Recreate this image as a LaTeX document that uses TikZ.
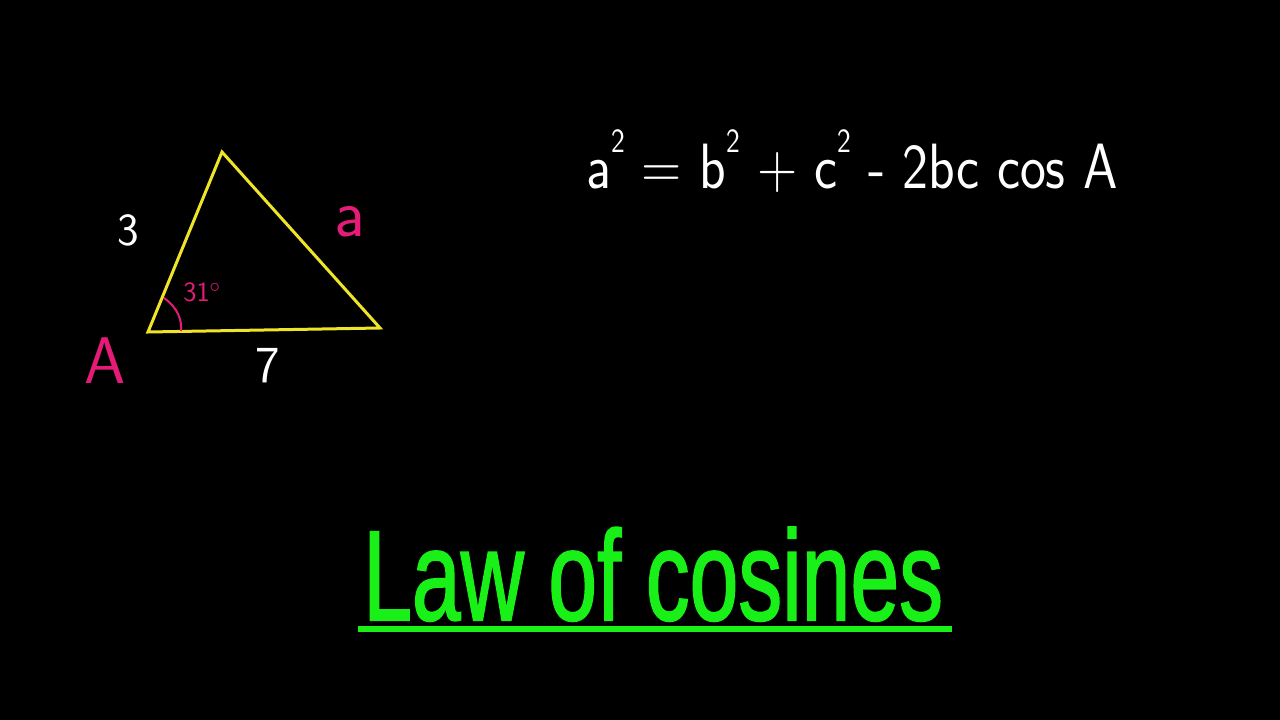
\documentclass[tikz,border=0pt]{standalone}
\usepackage{fontspec}
\setmainfont{Liberation Sans}
\newfontfamily\titlefont{Liberation Sans}[FakeBold=1.6]
\definecolor{tri}{RGB}{238,228,40}
\definecolor{pinkish}{RGB}{228,28,120}
\definecolor{titlegreen}{RGB}{24,240,24}
\tikzset{
  whitelbl/.style={text=white, inner sep=0pt, font=\sffamily},
  pinklbl/.style={text=pinkish, inner sep=0pt, font=\sffamily},
  triline/.style={draw=tri, line width=3pt, line join=miter},
}
\newcommand{\sq}{\raisebox{0.55em}{\fontsize{34}{34}\selectfont 2}}
\begin{document}
\begin{tikzpicture}[x=1pt,y=-1pt]
\fill[black] (0,0) rectangle (1280,720);
\useasboundingbox (0,0) rectangle (1280,720);
% triangle
\coordinate (T) at (222,152);
\coordinate (L) at (148,332);
\coordinate (R) at (380,328);
\draw[triline] (T) -- (L) -- (R) -- cycle;
% angle arc
\coordinate (a1) at (164,298);
\coordinate (a2) at (181,331);
\draw[pinkish, line width=2pt] (a1) .. controls (178,308) and (182,320) .. (a2);
% labels
\node[whitelbl, font=\sffamily\fontsize{46}{46}\selectfont] (three) at (128,230) {3};
\node[pinklbl, font=\sffamily\fontsize{68}{68}\selectfont] (sa) at (350,222) {a};
\node[pinklbl, font=\sffamily\fontsize{28}{28}\selectfont] (ang) at (202,292) {31$^\circ$};
\node[pinklbl, font=\sffamily\fontsize{66}{66}\selectfont] (A) at (105,361) {A};
\node[whitelbl, font=\sffamily\fontsize{52}{52}\selectfont] (seven) at (268,366) {7};
% formula
\node[whitelbl, anchor=base west, font=\sffamily\fontsize{64}{64}\selectfont] (formula) at (586,188)
  {\scalebox{0.86}[1]{a\sq{} = b\sq{} + c\sq{} - 2bc cos A}};
% title
\node[text=titlegreen, inner sep=0pt, anchor=base west, font=\titlefont\fontsize{128}{128}\selectfont] (title) at (363,620)
  {\scalebox{0.685}[1]{Law of cosines}};
\coordinate (u1) at (358,629);
\coordinate (u2) at (952,629);
\draw[titlegreen, line width=6pt] (u1) -- (u2);
\end{tikzpicture}
\end{document}
